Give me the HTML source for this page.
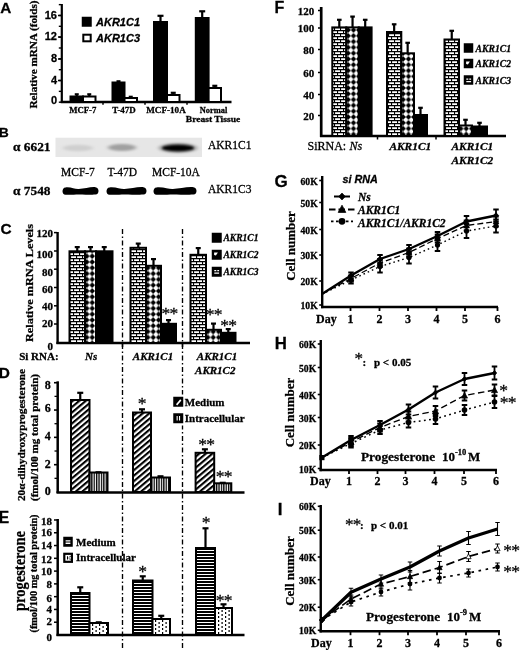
<!DOCTYPE html>
<html lang="en"><head><meta charset="utf-8"><title>Figure</title>
<style>
html,body{margin:0;padding:0;background:#fff;}
body{width:520px;height:650px;overflow:hidden;}
svg{display:block;filter:blur(0.35px);}
text{fill:#000;stroke:#000;stroke-width:0.28px;}
</style></head><body>
<svg width="520" height="650" viewBox="0 0 520 650">
<defs>
<pattern id="brick" width="6" height="6" patternUnits="userSpaceOnUse">
<rect width="6" height="6" fill="#fff"/>
<path d="M0 0H6V1.3H0ZM0 3H6V4.3H0ZM1 1.3H2.1V3H1ZM4 4.3H5.1V6H4Z" fill="#000"/>
</pattern>
<pattern id="diam" width="5" height="5.8" patternUnits="userSpaceOnUse" x="1.2">
<rect width="5" height="5.8" fill="#000"/>
<path d="M2.5 0.3L4.8 2.9L2.5 5.5L0.2 2.9Z" fill="#fff"/>
</pattern>
<pattern id="hatch" width="4.2" height="4.2" patternUnits="userSpaceOnUse" patternTransform="rotate(-40)">
<rect width="4.2" height="4.2" fill="#fff"/>
<rect width="4.2" height="2.1" fill="#000"/>
</pattern>
<pattern id="vert" width="2.4" height="4" patternUnits="userSpaceOnUse">
<rect width="2.4" height="4" fill="#fff"/>
<rect width="1.3" height="4" fill="#000"/>
</pattern>
<pattern id="horiz" width="4" height="3" patternUnits="userSpaceOnUse">
<rect width="4" height="3" fill="#000"/>
<rect y="1" width="4" height="1" fill="#fff"/>
</pattern>
<pattern id="dots" width="7" height="4" patternUnits="userSpaceOnUse">
<rect width="7" height="4" fill="#fff"/>
<rect x="1" y="0" width="1.2" height="2" fill="#000"/>
<rect x="4.5" y="2" width="1.2" height="2" fill="#000"/>
</pattern>
<filter id="blur4" x="-20%" y="-50%" width="140%" height="200%"><feGaussianBlur stdDeviation="2.2 1.3"/></filter>
<filter id="blur1" x="-10%" y="-30%" width="120%" height="160%"><feGaussianBlur stdDeviation="0.7"/></filter>
<filter id="blur2" x="-20%" y="-50%" width="140%" height="200%"><feGaussianBlur stdDeviation="1.2 0.8"/></filter>
</defs>
<rect width="520" height="650" fill="#fff"/>

<g id="panelA">
<text x="0.3" y="12.7" font-family='"Liberation Sans", sans-serif' font-size="15.3" font-weight="bold" font-style="normal" text-anchor="start" stroke="#000" stroke-width="0.5">A</text>
<text x="36.9" y="54.5" font-family='"Liberation Serif", serif' font-size="11" font-weight="bold" font-style="normal" text-anchor="middle" transform="rotate(-90 36.9 54.5)" textLength="108" lengthAdjust="spacingAndGlyphs">Relative mRNA (folds)</text>
<line x1="61.8" y1="4" x2="61.8" y2="103" stroke="#000" stroke-width="2.2"/>
<line x1="58.8" y1="102.2" x2="61" y2="102.2" stroke="#000" stroke-width="1.4"/>
<line x1="58.8" y1="91.36" x2="61" y2="91.36" stroke="#000" stroke-width="1.4"/>
<line x1="58.8" y1="80.52000000000001" x2="61" y2="80.52000000000001" stroke="#000" stroke-width="1.4"/>
<line x1="58.8" y1="69.68" x2="61" y2="69.68" stroke="#000" stroke-width="1.4"/>
<line x1="58.8" y1="58.84" x2="61" y2="58.84" stroke="#000" stroke-width="1.4"/>
<line x1="58.8" y1="48.0" x2="61" y2="48.0" stroke="#000" stroke-width="1.4"/>
<line x1="58.8" y1="37.16000000000001" x2="61" y2="37.16000000000001" stroke="#000" stroke-width="1.4"/>
<line x1="58.8" y1="26.320000000000007" x2="61" y2="26.320000000000007" stroke="#000" stroke-width="1.4"/>
<line x1="58.8" y1="15.480000000000004" x2="61" y2="15.480000000000004" stroke="#000" stroke-width="1.4"/>
<line x1="58.8" y1="4.640000000000001" x2="61" y2="4.640000000000001" stroke="#000" stroke-width="1.4"/>
<line x1="60.7" y1="102.1" x2="231.5" y2="102.1" stroke="#000" stroke-width="2.5"/>
<line x1="58" y1="15.5" x2="61" y2="15.5" stroke="#000" stroke-width="1.5"/>
<text x="57" y="18.9" font-family='"Liberation Sans", sans-serif' font-size="11" font-weight="bold" font-style="normal" text-anchor="end" stroke="#000" stroke-width="0.25">16</text>
<line x1="58" y1="37" x2="61" y2="37" stroke="#000" stroke-width="1.5"/>
<text x="57" y="40.4" font-family='"Liberation Sans", sans-serif' font-size="11" font-weight="bold" font-style="normal" text-anchor="end" stroke="#000" stroke-width="0.25">12</text>
<line x1="58" y1="59" x2="61" y2="59" stroke="#000" stroke-width="1.5"/>
<text x="57" y="62.4" font-family='"Liberation Sans", sans-serif' font-size="11" font-weight="bold" font-style="normal" text-anchor="end" stroke="#000" stroke-width="0.25">8</text>
<line x1="58" y1="80.5" x2="61" y2="80.5" stroke="#000" stroke-width="1.5"/>
<text x="57" y="83.9" font-family='"Liberation Sans", sans-serif' font-size="11" font-weight="bold" font-style="normal" text-anchor="end" stroke="#000" stroke-width="0.25">4</text>
<text x="57" y="104" font-family='"Liberation Sans", sans-serif' font-size="11" font-weight="bold" font-style="normal" text-anchor="end" stroke="#000" stroke-width="0.25">0</text>
<line x1="103" y1="102" x2="103" y2="104.8" stroke="#000" stroke-width="1.5"/>
<line x1="145" y1="102" x2="145" y2="104.8" stroke="#000" stroke-width="1.5"/>
<line x1="187" y1="102" x2="187" y2="104.8" stroke="#000" stroke-width="1.5"/>
<rect x="70.5" y="96.5" width="12.5" height="5.5" fill="#000" stroke="#000" stroke-width="2"/>
<line x1="76.75" y1="96.5" x2="76.75" y2="94" stroke="#000" stroke-width="2.2"/>
<line x1="74.75" y1="94.3" x2="78.75" y2="94.3" stroke="#000" stroke-width="2.2"/>
<rect x="83" y="96.5" width="12.5" height="5.5" fill="#fff" stroke="#000" stroke-width="2"/>
<line x1="89.25" y1="96.5" x2="89.25" y2="94" stroke="#000" stroke-width="2.2"/>
<line x1="87.25" y1="94.3" x2="91.25" y2="94.3" stroke="#000" stroke-width="2.2"/>
<rect x="112.5" y="82.5" width="12.0" height="19.5" fill="#000" stroke="#000" stroke-width="2"/>
<line x1="118.5" y1="82.5" x2="118.5" y2="81" stroke="#000" stroke-width="2.2"/>
<line x1="116.5" y1="81.3" x2="120.5" y2="81.3" stroke="#000" stroke-width="2.2"/>
<rect x="124.5" y="98" width="12.5" height="4" fill="#fff" stroke="#000" stroke-width="2"/>
<line x1="130.75" y1="98" x2="130.75" y2="96.5" stroke="#000" stroke-width="2.2"/>
<line x1="128.75" y1="96.8" x2="132.75" y2="96.8" stroke="#000" stroke-width="2.2"/>
<rect x="154" y="22" width="13" height="80" fill="#000" stroke="#000" stroke-width="2"/>
<line x1="160.5" y1="22" x2="160.5" y2="15.5" stroke="#000" stroke-width="2.2"/>
<line x1="157.5" y1="15.8" x2="163.5" y2="15.8" stroke="#000" stroke-width="2.2"/>
<rect x="167" y="95" width="12.5" height="7" fill="#fff" stroke="#000" stroke-width="2"/>
<line x1="173.25" y1="95" x2="173.25" y2="92.5" stroke="#000" stroke-width="2.2"/>
<line x1="170.75" y1="92.8" x2="175.75" y2="92.8" stroke="#000" stroke-width="2.2"/>
<rect x="195.8" y="18" width="12.799999999999983" height="84" fill="#000" stroke="#000" stroke-width="2"/>
<line x1="202.2" y1="18" x2="202.2" y2="11" stroke="#000" stroke-width="2.2"/>
<line x1="199.2" y1="11.3" x2="205.2" y2="11.3" stroke="#000" stroke-width="2.2"/>
<rect x="208.6" y="88" width="12.400000000000006" height="14" fill="#fff" stroke="#000" stroke-width="2"/>
<line x1="214.8" y1="88" x2="214.8" y2="85.5" stroke="#000" stroke-width="2.2"/>
<line x1="212.3" y1="85.8" x2="217.3" y2="85.8" stroke="#000" stroke-width="2.2"/>
<rect x="82.5" y="17.5" width="8.5" height="8.5" fill="#000" stroke="#000" stroke-width="1.5"/>
<text x="96" y="26" font-family='"Liberation Sans", sans-serif' font-size="11" font-weight="bold" font-style="italic" text-anchor="start">AKR1C1</text>
<rect x="83.3" y="34.7" width="7.4" height="6.6" fill="#fff" stroke="#000" stroke-width="2"/>
<text x="96" y="41.5" font-family='"Liberation Sans", sans-serif' font-size="11" font-weight="bold" font-style="italic" text-anchor="start">AKR1C3</text>
<text x="82.8" y="113" font-family='"Liberation Serif", serif' font-size="9" font-weight="bold" font-style="normal" text-anchor="middle" textLength="27.3" lengthAdjust="spacingAndGlyphs">MCF-7</text>
<text x="124" y="113" font-family='"Liberation Serif", serif' font-size="9" font-weight="bold" font-style="normal" text-anchor="middle" textLength="23.5" lengthAdjust="spacingAndGlyphs">T-47D</text>
<text x="166" y="113" font-family='"Liberation Serif", serif' font-size="9" font-weight="bold" font-style="normal" text-anchor="middle" textLength="39.5" lengthAdjust="spacingAndGlyphs">MCF-10A</text>
<text x="213.5" y="113" font-family='"Liberation Serif", serif' font-size="9" font-weight="bold" font-style="normal" text-anchor="middle" textLength="27.5" lengthAdjust="spacingAndGlyphs">Normal</text>
<text x="213" y="122.3" font-family='"Liberation Serif", serif' font-size="9" font-weight="bold" font-style="normal" text-anchor="middle" textLength="54.5" lengthAdjust="spacingAndGlyphs">Breast Tissue</text>
</g>
<g id="panelB">
<text x="-1" y="136.5" font-family='"Liberation Sans", sans-serif' font-size="13.5" font-weight="bold" font-style="normal" text-anchor="start" stroke="#000" stroke-width="0.5">B</text>
<text x="13" y="151.3" font-family='"Liberation Serif", serif' font-size="12.5" font-weight="bold" font-style="normal" text-anchor="start" textLength="37.5" lengthAdjust="spacingAndGlyphs">α 6621</text>
<text x="13" y="195.3" font-family='"Liberation Serif", serif' font-size="12.5" font-weight="bold" font-style="normal" text-anchor="start" textLength="37.5" lengthAdjust="spacingAndGlyphs">α 7548</text>
<rect x="55.5" y="137.7" width="146.5" height="19.3" fill="#e6e6e6" filter="url(#blur1)"/>
<ellipse cx="78" cy="148" rx="15" ry="3.2" fill="#cfcfcf" filter="url(#blur4)"/>
<ellipse cx="122" cy="147.5" rx="14" ry="3.6" fill="#a0a0a0" filter="url(#blur4)"/>
<ellipse cx="178" cy="148" rx="19" ry="5" fill="#9a9a9a" filter="url(#blur4)"/>
<ellipse cx="178" cy="148" rx="16" ry="3.3" fill="#000" filter="url(#blur2)"/>
<text x="208" y="149" font-family='"Liberation Serif", serif' font-size="11.5" font-weight="normal" font-style="normal" text-anchor="start" stroke="#000" stroke-width="0.3">AKR1C1</text>
<text x="208" y="192.5" font-family='"Liberation Serif", serif' font-size="11.5" font-weight="normal" font-style="normal" text-anchor="start" stroke="#000" stroke-width="0.3">AKR1C3</text>
<text x="61" y="175.5" font-family='"Liberation Serif", serif' font-size="11.5" font-weight="normal" font-style="normal" text-anchor="start" stroke="#000" stroke-width="0.3">MCF-7</text>
<text x="107.5" y="175.5" font-family='"Liberation Serif", serif' font-size="11.5" font-weight="normal" font-style="normal" text-anchor="start" stroke="#000" stroke-width="0.3">T-47D</text>
<text x="152" y="175.5" font-family='"Liberation Serif", serif' font-size="11.5" font-weight="normal" font-style="normal" text-anchor="start" stroke="#000" stroke-width="0.3">MCF-10A</text>
<path d="M65.5 187.4C71.5 186.8 74.7 189.4 78.7 189.1C84.7 188.8 90.58 186.6 95.5 187.2C99.5 187.4 99.5 194.6 95.5 194.6C90.58 194.8 84.7 194.4 78.7 194.4C74.7 194.4 71.5 195 65.5 194.8C61.5 194.6 61.5 187.6 65.5 187.4Z" fill="#000" filter="url(#blur1)"/>
<path d="M109.5 187.4C116.5 186.8 120.5 189.4 124.5 189.1C130.5 188.8 137.7 186.6 143.5 187.2C147.5 187.4 147.5 194.6 143.5 194.6C137.7 194.8 130.5 194.4 124.5 194.4C120.5 194.4 116.5 195 109.5 194.8C105.5 194.6 105.5 187.6 109.5 187.4Z" fill="#000" filter="url(#blur1)"/>
<path d="M156.5 187.4C164.25 186.8 168.85 189.4 172.85 189.1C178.85 188.8 187.04 186.6 193.5 187.2C197.5 187.4 197.5 194.6 193.5 194.6C187.04 194.8 178.85 194.4 172.85 194.4C168.85 194.4 164.25 195 156.5 194.8C152.5 194.6 152.5 187.6 156.5 187.4Z" fill="#000" filter="url(#blur1)"/>
</g>
<line x1="122.5" y1="229" x2="122.5" y2="650" stroke="#000" stroke-width="1.35" stroke-dasharray="5 2.5 1.5 2.5"/>
<line x1="182.5" y1="229" x2="182.5" y2="650" stroke="#000" stroke-width="1.35" stroke-dasharray="5 2.5 1.5 2.5"/>
<g id="panelC">
<text x="0.5" y="233.8" font-family='"Liberation Sans", sans-serif' font-size="15.4" font-weight="bold" font-style="normal" text-anchor="start" stroke="#000" stroke-width="0.5">C</text>
<text x="32.7" y="283" font-family='"Liberation Serif", serif' font-size="11.4" font-weight="bold" font-style="normal" text-anchor="middle" transform="rotate(-90 32.7 283)" textLength="118" lengthAdjust="spacingAndGlyphs">Relative mRNA Levels</text>
<line x1="57.6" y1="232" x2="57.6" y2="344" stroke="#000" stroke-width="2.4"/>
<line x1="56.4" y1="343" x2="250" y2="343" stroke="#000" stroke-width="2.5"/>
<line x1="54" y1="232.6" x2="57" y2="232.6" stroke="#000" stroke-width="1.5"/>
<text x="53" y="237.4" font-family='"Liberation Serif", serif' font-size="11" font-weight="bold" font-style="normal" text-anchor="end">120</text>
<line x1="54" y1="251" x2="57" y2="251" stroke="#000" stroke-width="1.5"/>
<text x="53" y="257.5" font-family='"Liberation Serif", serif' font-size="11" font-weight="bold" font-style="normal" text-anchor="end">100</text>
<line x1="54" y1="269.2" x2="57" y2="269.2" stroke="#000" stroke-width="1.5"/>
<text x="53" y="275.8" font-family='"Liberation Serif", serif' font-size="11" font-weight="bold" font-style="normal" text-anchor="end">80</text>
<line x1="54" y1="287.5" x2="57" y2="287.5" stroke="#000" stroke-width="1.5"/>
<text x="53" y="293.1" font-family='"Liberation Serif", serif' font-size="11" font-weight="bold" font-style="normal" text-anchor="end">60</text>
<line x1="54" y1="305.8" x2="57" y2="305.8" stroke="#000" stroke-width="1.5"/>
<text x="53" y="310.4" font-family='"Liberation Serif", serif' font-size="11" font-weight="bold" font-style="normal" text-anchor="end">40</text>
<line x1="54" y1="324" x2="57" y2="324" stroke="#000" stroke-width="1.5"/>
<text x="53" y="327.2" font-family='"Liberation Serif", serif' font-size="11" font-weight="bold" font-style="normal" text-anchor="end">20</text>
<text x="53" y="349.5" font-family='"Liberation Serif", serif' font-size="11" font-weight="bold" font-style="normal" text-anchor="end">0</text>
<line x1="122.5" y1="343" x2="122.5" y2="347" stroke="#000" stroke-width="1.5"/>
<line x1="182.5" y1="343" x2="182.5" y2="347" stroke="#000" stroke-width="1.5"/>
<rect x="69.5" y="251.3" width="15.5" height="91.69999999999999" fill="url(#brick)" stroke="#000" stroke-width="2"/>
<line x1="77.25" y1="251.3" x2="77.25" y2="246.8" stroke="#000" stroke-width="2.2"/>
<line x1="74.75" y1="247.10000000000002" x2="79.75" y2="247.10000000000002" stroke="#000" stroke-width="2.2"/>
<pattern id="dm1" width="5.4" height="5.8" patternUnits="userSpaceOnUse" x="86.8" y="1"><rect width="5.4" height="5.8" fill="#000"/><path d="M2.7 0L5.4 2.9L2.7 5.8L0 2.9Z" fill="#fff"/></pattern>
<rect x="85" y="251.3" width="11" height="91.69999999999999" fill="url(#dm1)" stroke="#000" stroke-width="2"/>
<line x1="90.5" y1="251.3" x2="90.5" y2="246.8" stroke="#000" stroke-width="2.2"/>
<line x1="88.0" y1="247.10000000000002" x2="93.0" y2="247.10000000000002" stroke="#000" stroke-width="2.2"/>
<rect x="96" y="251.3" width="16.5" height="91.69999999999999" fill="#000" stroke="#000" stroke-width="2"/>
<line x1="104.25" y1="251.3" x2="104.25" y2="246.8" stroke="#000" stroke-width="2.2"/>
<line x1="101.75" y1="247.10000000000002" x2="106.75" y2="247.10000000000002" stroke="#000" stroke-width="2.2"/>
<rect x="130.5" y="247.8" width="15.5" height="95.19999999999999" fill="url(#brick)" stroke="#000" stroke-width="2"/>
<line x1="138.25" y1="247.8" x2="138.25" y2="243.3" stroke="#000" stroke-width="2.2"/>
<line x1="135.75" y1="243.60000000000002" x2="140.75" y2="243.60000000000002" stroke="#000" stroke-width="2.2"/>
<pattern id="dm2" width="5.4" height="5.8" patternUnits="userSpaceOnUse" x="147.8" y="1"><rect width="5.4" height="5.8" fill="#000"/><path d="M2.7 0L5.4 2.9L2.7 5.8L0 2.9Z" fill="#fff"/></pattern>
<rect x="146" y="265.8" width="15" height="77.19999999999999" fill="url(#dm2)" stroke="#000" stroke-width="2"/>
<line x1="153.5" y1="265.8" x2="153.5" y2="258.8" stroke="#000" stroke-width="2.2"/>
<line x1="151.0" y1="259.1" x2="156.0" y2="259.1" stroke="#000" stroke-width="2.2"/>
<rect x="161" y="323.8" width="15" height="19.19999999999999" fill="#000" stroke="#000" stroke-width="2"/>
<line x1="168.5" y1="323.8" x2="168.5" y2="319.8" stroke="#000" stroke-width="2.2"/>
<line x1="166.0" y1="320.1" x2="171.0" y2="320.1" stroke="#000" stroke-width="2.2"/>
<rect x="190.5" y="254.8" width="15.5" height="88.19999999999999" fill="url(#brick)" stroke="#000" stroke-width="2"/>
<line x1="198.25" y1="254.8" x2="198.25" y2="247.8" stroke="#000" stroke-width="2.2"/>
<line x1="195.75" y1="248.10000000000002" x2="200.75" y2="248.10000000000002" stroke="#000" stroke-width="2.2"/>
<pattern id="dm3" width="5.4" height="5.8" patternUnits="userSpaceOnUse" x="207.8" y="1"><rect width="5.4" height="5.8" fill="#000"/><path d="M2.7 0L5.4 2.9L2.7 5.8L0 2.9Z" fill="#fff"/></pattern>
<rect x="206" y="329.8" width="15" height="13.199999999999989" fill="url(#dm3)" stroke="#000" stroke-width="2"/>
<line x1="213.5" y1="329.8" x2="213.5" y2="323.3" stroke="#000" stroke-width="2.2"/>
<line x1="211.0" y1="323.6" x2="216.0" y2="323.6" stroke="#000" stroke-width="2.2"/>
<rect x="221" y="332.8" width="14.5" height="10.199999999999989" fill="#000" stroke="#000" stroke-width="2"/>
<line x1="228.25" y1="332.8" x2="228.25" y2="328.8" stroke="#000" stroke-width="2.2"/>
<line x1="225.75" y1="329.1" x2="230.75" y2="329.1" stroke="#000" stroke-width="2.2"/>
<text x="161.49" y="319.23" font-family='"Liberation Serif", serif' font-size="17.5" font-weight="normal" font-style="normal" text-anchor="start" letter-spacing="-0.8" stroke="#000" stroke-width="0.32">**</text>
<text x="205.74" y="319.73" font-family='"Liberation Serif", serif' font-size="17.5" font-weight="normal" font-style="normal" text-anchor="start" letter-spacing="-0.8" stroke="#000" stroke-width="0.32">**</text>
<text x="220.24" y="331.23" font-family='"Liberation Serif", serif' font-size="17.5" font-weight="normal" font-style="normal" text-anchor="start" letter-spacing="-0.8" stroke="#000" stroke-width="0.32">**</text>
<rect x="212.5" y="233.5" width="8.5" height="8.5" fill="#000" stroke="#000" stroke-width="1.5"/>
<text x="223.5" y="241.2" font-family='"Liberation Serif", serif' font-size="10.6" font-weight="bold" font-style="italic" text-anchor="start" textLength="35" lengthAdjust="spacingAndGlyphs">AKR1C1</text>
<rect x="212.5" y="250.5" width="8.5" height="8.5" fill="#000" stroke="#000" stroke-width="1.5"/>
<path d="M214.1 252.5L217.9 252.5L215.9 255.4L214.1 254.9Z" fill="#fff"/>
<text x="223.5" y="258.2" font-family='"Liberation Serif", serif' font-size="10.6" font-weight="bold" font-style="italic" text-anchor="start" textLength="35" lengthAdjust="spacingAndGlyphs">AKR1C2</text>
<rect x="212.5" y="267.5" width="8.5" height="8.5" fill="#000" stroke="#000" stroke-width="1.5"/>
<path d="M214.3 269.9h2v1.3h-2ZM217.3 269.9h1.8v1.3h-1.8ZM214.3 272.4h4.8v1.3h-4.8Z" fill="#fff"/>
<text x="223.5" y="275.2" font-family='"Liberation Serif", serif' font-size="10.6" font-weight="bold" font-style="italic" text-anchor="start" textLength="35" lengthAdjust="spacingAndGlyphs">AKR1C3</text>
<text x="19.2" y="360" font-family='"Liberation Serif", serif' font-size="11" font-weight="bold" font-style="normal" text-anchor="start">Si RNA:</text>
<text x="85" y="360" font-family='"Liberation Serif", serif' font-size="11" font-weight="bold" font-style="italic" text-anchor="start">Ns</text>
<text x="153" y="360" font-family='"Liberation Serif", serif' font-size="11" font-weight="bold" font-style="italic" text-anchor="middle">AKR1C1</text>
<text x="217" y="360" font-family='"Liberation Serif", serif' font-size="11" font-weight="bold" font-style="italic" text-anchor="middle">AKR1C1</text>
<text x="215.3" y="374" font-family='"Liberation Serif", serif' font-size="11" font-weight="bold" font-style="italic" text-anchor="middle">AKR1C2</text>
</g>
<g id="panelD">
<text x="-1.2" y="377.5" font-family='"Liberation Sans", sans-serif' font-size="15.4" font-weight="bold" font-style="normal" text-anchor="start" stroke="#000" stroke-width="0.5">D</text>
<text x="24.8" y="435" font-family='"Liberation Serif", serif' font-size="10.5" font-weight="bold" font-style="normal" text-anchor="middle" transform="rotate(-90 24.8 435)" textLength="132" lengthAdjust="spacingAndGlyphs">20α-dihydroxyprogesterone</text>
<text x="37.6" y="437.5" font-family='"Liberation Serif", serif' font-size="9.5" font-weight="bold" font-style="normal" text-anchor="middle" transform="rotate(-90 37.6 437.5)" textLength="127" lengthAdjust="spacingAndGlyphs">(fmol/100 mg total  protein)</text>
<line x1="57.7" y1="381.3" x2="57.7" y2="493" stroke="#000" stroke-width="2.5"/>
<line x1="56.5" y1="492.5" x2="244.5" y2="492.5" stroke="#000" stroke-width="2.5"/>
<line x1="54.5" y1="478.34" x2="57" y2="478.34" stroke="#000" stroke-width="1.3"/>
<line x1="54" y1="464.68" x2="57" y2="464.68" stroke="#000" stroke-width="1.6"/>
<line x1="54.5" y1="451.02" x2="57" y2="451.02" stroke="#000" stroke-width="1.3"/>
<line x1="54" y1="437.36" x2="57" y2="437.36" stroke="#000" stroke-width="1.6"/>
<line x1="54.5" y1="423.7" x2="57" y2="423.7" stroke="#000" stroke-width="1.3"/>
<line x1="54" y1="410.03999999999996" x2="57" y2="410.03999999999996" stroke="#000" stroke-width="1.6"/>
<line x1="54.5" y1="396.38" x2="57" y2="396.38" stroke="#000" stroke-width="1.3"/>
<line x1="54" y1="382.72" x2="57" y2="382.72" stroke="#000" stroke-width="1.6"/>
<text x="50.7" y="388.6" font-family='"Liberation Serif", serif' font-size="12" font-weight="bold" font-style="normal" text-anchor="end">8</text>
<text x="50.7" y="411.7" font-family='"Liberation Serif", serif' font-size="12" font-weight="bold" font-style="normal" text-anchor="end">6</text>
<text x="50.7" y="440.2" font-family='"Liberation Serif", serif' font-size="12" font-weight="bold" font-style="normal" text-anchor="end">4</text>
<text x="50.7" y="467.8" font-family='"Liberation Serif", serif' font-size="12" font-weight="bold" font-style="normal" text-anchor="end">2</text>
<text x="50.7" y="495.3" font-family='"Liberation Serif", serif' font-size="12" font-weight="bold" font-style="normal" text-anchor="end">0</text>
<rect x="71" y="400" width="18.5" height="92" fill="url(#hatch)" stroke="#000" stroke-width="2"/>
<line x1="80.25" y1="400" x2="80.25" y2="392.5" stroke="#000" stroke-width="2.2"/>
<line x1="77.25" y1="392.8" x2="83.25" y2="392.8" stroke="#000" stroke-width="2.2"/>
<rect x="89.5" y="472.5" width="18.0" height="19.5" fill="url(#vert)" stroke="#000" stroke-width="2"/>
<line x1="98.5" y1="472.5" x2="98.5" y2="472" stroke="#000" stroke-width="2.2"/>
<line x1="95.5" y1="472.3" x2="101.5" y2="472.3" stroke="#000" stroke-width="2.2"/>
<rect x="133" y="412.5" width="18" height="79.5" fill="url(#hatch)" stroke="#000" stroke-width="2"/>
<line x1="142.0" y1="412.5" x2="142.0" y2="409" stroke="#000" stroke-width="2.2"/>
<line x1="139.0" y1="409.3" x2="145.0" y2="409.3" stroke="#000" stroke-width="2.2"/>
<rect x="151" y="477.5" width="19" height="14.5" fill="url(#vert)" stroke="#000" stroke-width="2"/>
<line x1="160.5" y1="477.5" x2="160.5" y2="476" stroke="#000" stroke-width="2.2"/>
<line x1="157.5" y1="476.3" x2="163.5" y2="476.3" stroke="#000" stroke-width="2.2"/>
<rect x="195.6" y="452.8" width="18.599999999999994" height="39.19999999999999" fill="url(#hatch)" stroke="#000" stroke-width="2"/>
<line x1="204.89999999999998" y1="452.8" x2="204.89999999999998" y2="449" stroke="#000" stroke-width="2.2"/>
<line x1="201.89999999999998" y1="449.3" x2="207.89999999999998" y2="449.3" stroke="#000" stroke-width="2.2"/>
<rect x="214.2" y="483.3" width="17.100000000000023" height="8.699999999999989" fill="url(#vert)" stroke="#000" stroke-width="2"/>
<line x1="222.75" y1="483.3" x2="222.75" y2="482.5" stroke="#000" stroke-width="2.2"/>
<line x1="219.75" y1="482.8" x2="225.75" y2="482.8" stroke="#000" stroke-width="2.2"/>
<text x="137.71" y="409.23" font-family='"Liberation Serif", serif' font-size="17.5" font-weight="normal" font-style="normal" text-anchor="start" letter-spacing="-0.8" stroke="#000" stroke-width="0.32">*</text>
<text x="198.24" y="450.23" font-family='"Liberation Serif", serif' font-size="17.5" font-weight="normal" font-style="normal" text-anchor="start" letter-spacing="-0.8" stroke="#000" stroke-width="0.32">**</text>
<text x="215.74" y="482.23" font-family='"Liberation Serif", serif' font-size="17.5" font-weight="normal" font-style="normal" text-anchor="start" letter-spacing="-0.8" stroke="#000" stroke-width="0.32">**</text>
<rect x="171" y="394.5" width="76" height="31" fill="#fff"/>
<rect x="174" y="397.5" width="8.5" height="8.5" fill="#000" stroke="#000" stroke-width="1.5"/>
<path d="M176 404.3L180.2 399.3L181.4 400.4L177.2 405.4Z" fill="#fff"/>
<text x="184.8" y="406" font-family='"Liberation Serif", serif' font-size="11" font-weight="bold" font-style="normal" text-anchor="start">Medium</text>
<rect x="174" y="414" width="8.5" height="8.5" fill="#000" stroke="#000" stroke-width="1.5"/>
<path d="M176.6 416h1.1v4.6h-1.1ZM179 416h1.1v4.6h-1.1Z" fill="#fff"/>
<text x="184.8" y="422" font-family='"Liberation Serif", serif' font-size="11" font-weight="bold" font-style="normal" text-anchor="start">Intracellular</text>
</g>
<g id="panelE">
<text x="-1.2" y="522.5" font-family='"Liberation Sans", sans-serif' font-size="15.6" font-weight="bold" font-style="normal" text-anchor="start" stroke="#000" stroke-width="0.5">E</text>
<text x="24.7" y="571" font-family='"Liberation Serif", serif' font-size="16.5" font-weight="bold" font-style="normal" text-anchor="middle" transform="rotate(-90 24.7 571)" textLength="80" lengthAdjust="spacingAndGlyphs">progesterone</text>
<text x="36.7" y="573.5" font-family='"Liberation Serif", serif' font-size="9.5" font-weight="bold" font-style="normal" text-anchor="middle" transform="rotate(-90 36.7 573.5)" textLength="118" lengthAdjust="spacingAndGlyphs">(fmol/100 mg total  protein)</text>
<line x1="57.7" y1="519" x2="57.7" y2="636" stroke="#000" stroke-width="2.5"/>
<line x1="56.5" y1="635" x2="244.5" y2="635" stroke="#000" stroke-width="2.5"/>
<line x1="54" y1="622.22" x2="57" y2="622.22" stroke="#000" stroke-width="1.5"/>
<line x1="54" y1="609.44" x2="57" y2="609.44" stroke="#000" stroke-width="1.5"/>
<line x1="54" y1="596.66" x2="57" y2="596.66" stroke="#000" stroke-width="1.5"/>
<line x1="54" y1="583.88" x2="57" y2="583.88" stroke="#000" stroke-width="1.5"/>
<line x1="54" y1="571.1" x2="57" y2="571.1" stroke="#000" stroke-width="1.5"/>
<line x1="54" y1="558.32" x2="57" y2="558.32" stroke="#000" stroke-width="1.5"/>
<line x1="54" y1="545.54" x2="57" y2="545.54" stroke="#000" stroke-width="1.5"/>
<line x1="54" y1="532.76" x2="57" y2="532.76" stroke="#000" stroke-width="1.5"/>
<line x1="54" y1="519.98" x2="57" y2="519.98" stroke="#000" stroke-width="1.5"/>
<text x="52" y="524.5" font-family='"Liberation Serif", serif' font-size="11" font-weight="bold" font-style="normal" text-anchor="end">18</text>
<text x="52" y="535.6" font-family='"Liberation Serif", serif' font-size="11" font-weight="bold" font-style="normal" text-anchor="end">16</text>
<text x="52" y="548.5" font-family='"Liberation Serif", serif' font-size="11" font-weight="bold" font-style="normal" text-anchor="end">14</text>
<text x="52" y="563.3000000000001" font-family='"Liberation Serif", serif' font-size="11" font-weight="bold" font-style="normal" text-anchor="end">12</text>
<text x="52" y="574.5" font-family='"Liberation Serif", serif' font-size="11" font-weight="bold" font-style="normal" text-anchor="end">10</text>
<text x="52" y="587.9000000000001" font-family='"Liberation Serif", serif' font-size="11" font-weight="bold" font-style="normal" text-anchor="end">8</text>
<text x="52" y="601.8000000000001" font-family='"Liberation Serif", serif' font-size="11" font-weight="bold" font-style="normal" text-anchor="end">6</text>
<text x="52" y="613.3000000000001" font-family='"Liberation Serif", serif' font-size="11" font-weight="bold" font-style="normal" text-anchor="end">4</text>
<text x="52" y="625.0" font-family='"Liberation Serif", serif' font-size="11" font-weight="bold" font-style="normal" text-anchor="end">2</text>
<text x="52" y="641.4000000000001" font-family='"Liberation Serif", serif' font-size="11" font-weight="bold" font-style="normal" text-anchor="end">0</text>
<rect x="71" y="593" width="18.5" height="42" fill="url(#horiz)" stroke="#000" stroke-width="2"/>
<line x1="80.25" y1="593" x2="80.25" y2="587" stroke="#000" stroke-width="2.2"/>
<line x1="77.25" y1="587.3" x2="83.25" y2="587.3" stroke="#000" stroke-width="2.2"/>
<rect x="89.5" y="623" width="18.5" height="12" fill="url(#dots)" stroke="#000" stroke-width="2"/>
<line x1="98.75" y1="623" x2="98.75" y2="622" stroke="#000" stroke-width="2.2"/>
<line x1="95.75" y1="622.3" x2="101.75" y2="622.3" stroke="#000" stroke-width="2.2"/>
<rect x="133" y="580.5" width="19.5" height="54.5" fill="url(#horiz)" stroke="#000" stroke-width="2"/>
<line x1="142.75" y1="580.5" x2="142.75" y2="576" stroke="#000" stroke-width="2.2"/>
<line x1="139.75" y1="576.3" x2="145.75" y2="576.3" stroke="#000" stroke-width="2.2"/>
<rect x="152.5" y="619" width="17.5" height="16" fill="url(#dots)" stroke="#000" stroke-width="2"/>
<line x1="161.25" y1="619" x2="161.25" y2="615.5" stroke="#000" stroke-width="2.2"/>
<line x1="158.25" y1="615.8" x2="164.25" y2="615.8" stroke="#000" stroke-width="2.2"/>
<rect x="196" y="548" width="19" height="87" fill="url(#horiz)" stroke="#000" stroke-width="2"/>
<line x1="205.5" y1="548" x2="205.5" y2="528" stroke="#000" stroke-width="2.2"/>
<line x1="202.5" y1="528.3" x2="208.5" y2="528.3" stroke="#000" stroke-width="2.2"/>
<rect x="215" y="608" width="17" height="27" fill="url(#dots)" stroke="#000" stroke-width="2"/>
<line x1="223.5" y1="608" x2="223.5" y2="604" stroke="#000" stroke-width="2.2"/>
<line x1="220.5" y1="604.3" x2="226.5" y2="604.3" stroke="#000" stroke-width="2.2"/>
<text x="138.21" y="577.23" font-family='"Liberation Serif", serif' font-size="17.5" font-weight="normal" font-style="normal" text-anchor="start" letter-spacing="-0.8" stroke="#000" stroke-width="0.32">*</text>
<text x="201.71" y="528.23" font-family='"Liberation Serif", serif' font-size="17.5" font-weight="normal" font-style="normal" text-anchor="start" letter-spacing="-0.8" stroke="#000" stroke-width="0.32">*</text>
<text x="215.74" y="606.23" font-family='"Liberation Serif", serif' font-size="17.5" font-weight="normal" font-style="normal" text-anchor="start" letter-spacing="-0.8" stroke="#000" stroke-width="0.32">**</text>
<rect x="64" y="537.5" width="8" height="8.5" fill="#000" stroke="#000" stroke-width="1.5"/>
<path d="M65.6 540.2h4.8v1.3h-4.8ZM65.6 542.6h4.8v1.3h-4.8Z" fill="#fff"/>
<text x="76" y="545.5" font-family='"Liberation Serif", serif' font-size="11" font-weight="bold" font-style="normal" text-anchor="start">Medium</text>
<rect x="64.3" y="553.8" width="7.6" height="8" fill="#fff" stroke="#000" stroke-width="2.2"/>
<path d="M67 556.2h1v3.4h-1ZM69.6 556h1v1h-1ZM68.6 557.4h1v1h-1ZM69.6 558.8h1v1h-1Z" fill="#000"/>
<text x="76" y="561" font-family='"Liberation Serif", serif' font-size="11" font-weight="bold" font-style="normal" text-anchor="start">Intracellular</text>
</g>
<g id="panelF">
<text x="274.4" y="12.7" font-family='"Liberation Sans", sans-serif' font-size="16" font-weight="bold" font-style="normal" text-anchor="start" stroke="#000" stroke-width="0.1">F</text>
<line x1="321.2" y1="7" x2="321.2" y2="137" stroke="#000" stroke-width="2.7"/>
<line x1="320" y1="136" x2="506" y2="136" stroke="#000" stroke-width="2.5"/>
<line x1="318" y1="10.5" x2="321" y2="10.5" stroke="#000" stroke-width="1.5"/>
<text x="314.3" y="14.9" font-family='"Liberation Serif", serif' font-size="11" font-weight="bold" font-style="normal" text-anchor="end">120</text>
<line x1="318" y1="28" x2="321" y2="28" stroke="#000" stroke-width="1.5"/>
<text x="314.3" y="32.4" font-family='"Liberation Serif", serif' font-size="11" font-weight="bold" font-style="normal" text-anchor="end">100</text>
<line x1="318" y1="49.5" x2="321" y2="49.5" stroke="#000" stroke-width="1.5"/>
<text x="314.3" y="53.9" font-family='"Liberation Serif", serif' font-size="11" font-weight="bold" font-style="normal" text-anchor="end">80</text>
<line x1="318" y1="72.5" x2="321" y2="72.5" stroke="#000" stroke-width="1.5"/>
<text x="314.3" y="76.9" font-family='"Liberation Serif", serif' font-size="11" font-weight="bold" font-style="normal" text-anchor="end">60</text>
<line x1="318" y1="94.5" x2="321" y2="94.5" stroke="#000" stroke-width="1.5"/>
<text x="314.3" y="98.9" font-family='"Liberation Serif", serif' font-size="11" font-weight="bold" font-style="normal" text-anchor="end">40</text>
<line x1="318" y1="115.5" x2="321" y2="115.5" stroke="#000" stroke-width="1.5"/>
<text x="314.3" y="119.9" font-family='"Liberation Serif", serif' font-size="11" font-weight="bold" font-style="normal" text-anchor="end">20</text>
<line x1="377.5" y1="136" x2="377.5" y2="139.5" stroke="#000" stroke-width="1.5"/>
<line x1="436" y1="136" x2="436" y2="139.5" stroke="#000" stroke-width="1.5"/>
<rect x="332.3" y="27.4" width="14.0" height="108.6" fill="url(#brick)" stroke="#000" stroke-width="2"/>
<line x1="339.3" y1="27.4" x2="339.3" y2="19.5" stroke="#000" stroke-width="2.2"/>
<line x1="337.0" y1="19.8" x2="341.6" y2="19.8" stroke="#000" stroke-width="2.2"/>
<pattern id="dm4" width="5.4" height="5.8" patternUnits="userSpaceOnUse" x="348.1" y="1"><rect width="5.4" height="5.8" fill="#000"/><path d="M2.7 0L5.4 2.9L2.7 5.8L0 2.9Z" fill="#fff"/></pattern>
<rect x="346.3" y="27.4" width="12.5" height="108.6" fill="url(#dm4)" stroke="#000" stroke-width="2"/>
<line x1="352.55" y1="27.4" x2="352.55" y2="16.3" stroke="#000" stroke-width="2.2"/>
<line x1="350.25" y1="16.6" x2="354.85" y2="16.6" stroke="#000" stroke-width="2.2"/>
<rect x="358.8" y="27.4" width="12.800000000000011" height="108.6" fill="#000" stroke="#000" stroke-width="2"/>
<line x1="365.20000000000005" y1="27.4" x2="365.20000000000005" y2="19.5" stroke="#000" stroke-width="2.2"/>
<line x1="362.90000000000003" y1="19.8" x2="367.50000000000006" y2="19.8" stroke="#000" stroke-width="2.2"/>
<rect x="387" y="32" width="14.300000000000011" height="104" fill="url(#brick)" stroke="#000" stroke-width="2"/>
<line x1="394.15" y1="32" x2="394.15" y2="24" stroke="#000" stroke-width="2.2"/>
<line x1="391.84999999999997" y1="24.3" x2="396.45" y2="24.3" stroke="#000" stroke-width="2.2"/>
<pattern id="dm5" width="5.4" height="5.8" patternUnits="userSpaceOnUse" x="403.1" y="1"><rect width="5.4" height="5.8" fill="#000"/><path d="M2.7 0L5.4 2.9L2.7 5.8L0 2.9Z" fill="#fff"/></pattern>
<rect x="401.3" y="53.3" width="12.699999999999989" height="82.7" fill="url(#dm5)" stroke="#000" stroke-width="2"/>
<line x1="407.65" y1="53.3" x2="407.65" y2="42.5" stroke="#000" stroke-width="2.2"/>
<line x1="405.34999999999997" y1="42.8" x2="409.95" y2="42.8" stroke="#000" stroke-width="2.2"/>
<rect x="414" y="115" width="13" height="21" fill="#000" stroke="#000" stroke-width="2"/>
<line x1="420.5" y1="115" x2="420.5" y2="107.5" stroke="#000" stroke-width="2.2"/>
<line x1="418.2" y1="107.8" x2="422.8" y2="107.8" stroke="#000" stroke-width="2.2"/>
<rect x="444.5" y="39.5" width="14.5" height="96.5" fill="url(#brick)" stroke="#000" stroke-width="2"/>
<line x1="451.75" y1="39.5" x2="451.75" y2="30.5" stroke="#000" stroke-width="2.2"/>
<line x1="449.45" y1="30.8" x2="454.05" y2="30.8" stroke="#000" stroke-width="2.2"/>
<pattern id="dm6" width="5.4" height="5.8" patternUnits="userSpaceOnUse" x="460.8" y="1"><rect width="5.4" height="5.8" fill="#000"/><path d="M2.7 0L5.4 2.9L2.7 5.8L0 2.9Z" fill="#fff"/></pattern>
<rect x="459" y="125.5" width="13" height="10.5" fill="url(#dm6)" stroke="#000" stroke-width="2"/>
<line x1="465.5" y1="125.5" x2="465.5" y2="119.5" stroke="#000" stroke-width="2.2"/>
<line x1="463.2" y1="119.8" x2="467.8" y2="119.8" stroke="#000" stroke-width="2.2"/>
<rect x="472" y="126.5" width="15" height="9.5" fill="#000" stroke="#000" stroke-width="2"/>
<line x1="479.5" y1="126.5" x2="479.5" y2="122.5" stroke="#000" stroke-width="2.2"/>
<line x1="477.2" y1="122.8" x2="481.8" y2="122.8" stroke="#000" stroke-width="2.2"/>
<rect x="464.5" y="44" width="8" height="8" fill="#000" stroke="#000" stroke-width="1.5"/>
<text x="475.5" y="51.5" font-family='"Liberation Serif", serif' font-size="9.7" font-weight="bold" font-style="italic" text-anchor="start">AKR1C1</text>
<rect x="464.5" y="59.5" width="8" height="8" fill="#000" stroke="#000" stroke-width="1.5"/>
<path d="M466.1 61.5L469.9 61.5L467.9 64.4L466.1 63.9Z" fill="#fff"/>
<text x="475.5" y="67" font-family='"Liberation Serif", serif' font-size="9.7" font-weight="bold" font-style="italic" text-anchor="start">AKR1C2</text>
<rect x="464.5" y="76" width="8" height="8" fill="#000" stroke="#000" stroke-width="1.5"/>
<path d="M466.3 78.4h2v1.3h-2ZM469.3 78.4h1.8v1.3h-1.8ZM466.3 80.9h4.8v1.3h-4.8Z" fill="#fff"/>
<text x="475.5" y="83.5" font-family='"Liberation Serif", serif' font-size="9.7" font-weight="bold" font-style="italic" text-anchor="start">AKR1C3</text>
<text x="307.5" y="149.5" font-family='"Liberation Serif", serif' font-size="12" font-weight="normal" font-style="normal" text-anchor="start" stroke="#000" stroke-width="0.3">SiRNA:</text>
<text x="349.5" y="149.5" font-family='"Liberation Serif", serif' font-size="12" font-weight="normal" font-style="italic" text-anchor="start" stroke="#000" stroke-width="0.3">Ns</text>
<text x="410.3" y="150" font-family='"Liberation Serif", serif' font-size="11.4" font-weight="bold" font-style="italic" text-anchor="middle">AKR1C1</text>
<text x="472.4" y="150" font-family='"Liberation Serif", serif' font-size="11.4" font-weight="bold" font-style="italic" text-anchor="middle">AKR1C1</text>
<text x="472.4" y="163.5" font-family='"Liberation Serif", serif' font-size="11.4" font-weight="bold" font-style="italic" text-anchor="middle">AKR1C2</text>
</g>
<text x="274.6" y="187.2" font-family='"Liberation Sans", sans-serif' font-size="17" font-weight="bold" font-style="normal" text-anchor="start" stroke="#000" stroke-width="0">G</text>
<g id="panelG">
<line x1="322.2" y1="176" x2="322.2" y2="308.2" stroke="#000" stroke-width="2.4"/>
<line x1="321.0" y1="307" x2="498" y2="307" stroke="#000" stroke-width="2.4"/>
<line x1="319.2" y1="180.5" x2="322.2" y2="180.5" stroke="#000" stroke-width="1.6"/>
<text x="317.7" y="184.5" font-family='"Liberation Serif", serif' font-size="9.7" font-weight="bold" font-style="normal" text-anchor="end" stroke="#000" stroke-width="0.2">60K</text>
<line x1="319.2" y1="202.5" x2="322.2" y2="202.5" stroke="#000" stroke-width="1.6"/>
<text x="317.7" y="206.5" font-family='"Liberation Serif", serif' font-size="9.7" font-weight="bold" font-style="normal" text-anchor="end" stroke="#000" stroke-width="0.2">50K</text>
<line x1="319.2" y1="229.5" x2="322.2" y2="229.5" stroke="#000" stroke-width="1.6"/>
<text x="317.7" y="233.5" font-family='"Liberation Serif", serif' font-size="9.7" font-weight="bold" font-style="normal" text-anchor="end" stroke="#000" stroke-width="0.2">40K</text>
<line x1="319.2" y1="255" x2="322.2" y2="255" stroke="#000" stroke-width="1.6"/>
<text x="317.7" y="259" font-family='"Liberation Serif", serif' font-size="9.7" font-weight="bold" font-style="normal" text-anchor="end" stroke="#000" stroke-width="0.2">30K</text>
<line x1="319.2" y1="281" x2="322.2" y2="281" stroke="#000" stroke-width="1.6"/>
<text x="317.7" y="285" font-family='"Liberation Serif", serif' font-size="9.7" font-weight="bold" font-style="normal" text-anchor="end" stroke="#000" stroke-width="0.2">20K</text>
<line x1="319.2" y1="305" x2="322.2" y2="305" stroke="#000" stroke-width="1.6"/>
<text x="317.7" y="309" font-family='"Liberation Serif", serif' font-size="9.7" font-weight="bold" font-style="normal" text-anchor="end" stroke="#000" stroke-width="0.2">10K</text>
<line x1="350.5" y1="307" x2="350.5" y2="311" stroke="#000" stroke-width="1.8"/>
<text x="350.5" y="323" font-family='"Liberation Serif", serif' font-size="12" font-weight="bold" font-style="normal" text-anchor="middle">1</text>
<line x1="379.5" y1="307" x2="379.5" y2="311" stroke="#000" stroke-width="1.8"/>
<text x="379.5" y="323" font-family='"Liberation Serif", serif' font-size="12" font-weight="bold" font-style="normal" text-anchor="middle">2</text>
<line x1="408" y1="307" x2="408" y2="311" stroke="#000" stroke-width="1.8"/>
<text x="408" y="323" font-family='"Liberation Serif", serif' font-size="12" font-weight="bold" font-style="normal" text-anchor="middle">3</text>
<line x1="436.5" y1="307" x2="436.5" y2="311" stroke="#000" stroke-width="1.8"/>
<text x="436.5" y="323" font-family='"Liberation Serif", serif' font-size="12" font-weight="bold" font-style="normal" text-anchor="middle">4</text>
<line x1="465" y1="307" x2="465" y2="311" stroke="#000" stroke-width="1.8"/>
<text x="465" y="323" font-family='"Liberation Serif", serif' font-size="12" font-weight="bold" font-style="normal" text-anchor="middle">5</text>
<line x1="497.5" y1="307" x2="497.5" y2="311" stroke="#000" stroke-width="1.8"/>
<text x="497.5" y="323" font-family='"Liberation Serif", serif' font-size="12" font-weight="bold" font-style="normal" text-anchor="middle">6</text>
<text x="316" y="323" font-family='"Liberation Serif", serif' font-size="12" font-weight="bold" font-style="normal" text-anchor="start">Day</text>
<text x="295" y="246" font-family='"Liberation Serif", serif' font-size="13" font-weight="bold" font-style="normal" text-anchor="middle" transform="rotate(-90 295 246)">Cell number</text>
<polyline points="322,294 351,275.5 380,259 409,249 437.5,236 466.5,221.5 496,215.5" fill="none" stroke="#000" stroke-width="2.3" stroke-linejoin="round"/>
<polyline points="322,294 351,278.5 380,263 409,252.5 437.5,238.5 466.5,225.5 496,221.5" fill="none" stroke="#000" stroke-width="1.3" stroke-linejoin="round" stroke-dasharray="6 3"/>
<polyline points="322,294 351,280 380,266.5 409,257.5 437.5,245 466.5,231 496,226" fill="none" stroke="#000" stroke-width="1.4" stroke-linejoin="round" stroke-dasharray="1.6 3"/>
<path d="M351 272.5V278.5M348.25 272.5H353.75M348.25 278.5H353.75" stroke="#000" stroke-width="1.8" fill="none"/>
<path d="M351 272.7L353.6 275.5L351 278.3L348.4 275.5Z" fill="#000" stroke="#000" stroke-width="0.8"/>
<path d="M380 255V263M377.25 255H382.75M377.25 263H382.75" stroke="#000" stroke-width="1.8" fill="none"/>
<path d="M380 256.2L382.6 259L380 261.8L377.4 259Z" fill="#000" stroke="#000" stroke-width="0.8"/>
<path d="M409 245V253M406.25 245H411.75M406.25 253H411.75" stroke="#000" stroke-width="1.8" fill="none"/>
<path d="M409 246.2L411.6 249L409 251.8L406.4 249Z" fill="#000" stroke="#000" stroke-width="0.8"/>
<path d="M437.5 232V240M434.75 232H440.25M434.75 240H440.25" stroke="#000" stroke-width="1.8" fill="none"/>
<path d="M437.5 233.2L440.1 236L437.5 238.8L434.9 236Z" fill="#000" stroke="#000" stroke-width="0.8"/>
<path d="M466.5 216V227M463.75 216H469.25M463.75 227H469.25" stroke="#000" stroke-width="1.8" fill="none"/>
<path d="M466.5 218.7L469.1 221.5L466.5 224.3L463.9 221.5Z" fill="#000" stroke="#000" stroke-width="0.8"/>
<path d="M496 209.5V221.5M493.25 209.5H498.75M493.25 221.5H498.75" stroke="#000" stroke-width="1.8" fill="none"/>
<path d="M496 212.7L498.6 215.5L496 218.3L493.4 215.5Z" fill="#000" stroke="#000" stroke-width="0.8"/>
<path d="M351 275.5V281.5M348.25 275.5H353.75M348.25 281.5H353.75" stroke="#000" stroke-width="1.8" fill="none"/>
<path d="M351 275.7L353.8 280.9L348.2 280.9Z" fill="#000" stroke="#000" stroke-width="0.8"/>
<path d="M380 259V267M377.25 259H382.75M377.25 267H382.75" stroke="#000" stroke-width="1.8" fill="none"/>
<path d="M380 260.2L382.8 265.4L377.2 265.4Z" fill="#000" stroke="#000" stroke-width="0.8"/>
<path d="M409 248.5V256.5M406.25 248.5H411.75M406.25 256.5H411.75" stroke="#000" stroke-width="1.8" fill="none"/>
<path d="M409 249.7L411.8 254.9L406.2 254.9Z" fill="#000" stroke="#000" stroke-width="0.8"/>
<path d="M437.5 234.5V242.5M434.75 234.5H440.25M434.75 242.5H440.25" stroke="#000" stroke-width="1.8" fill="none"/>
<path d="M437.5 235.7L440.3 240.9L434.7 240.9Z" fill="#000" stroke="#000" stroke-width="0.8"/>
<path d="M466.5 220.5V230.5M463.75 220.5H469.25M463.75 230.5H469.25" stroke="#000" stroke-width="1.8" fill="none"/>
<path d="M466.5 222.7L469.3 227.9L463.7 227.9Z" fill="#000" stroke="#000" stroke-width="0.8"/>
<path d="M496 216.5V226.5M493.25 216.5H498.75M493.25 226.5H498.75" stroke="#000" stroke-width="1.8" fill="none"/>
<path d="M496 218.7L498.8 223.9L493.2 223.9Z" fill="#000" stroke="#000" stroke-width="0.8"/>
<path d="M351 276.5V283.5M348.25 276.5H353.75M348.25 283.5H353.75" stroke="#000" stroke-width="1.8" fill="none"/>
<circle cx="351" cy="280" r="2.6" fill="#000"/>
<path d="M380 260.5V272.5M377.25 260.5H382.75M377.25 272.5H382.75" stroke="#000" stroke-width="1.8" fill="none"/>
<circle cx="380" cy="266.5" r="2.6" fill="#000"/>
<path d="M409 251.5V263.5M406.25 251.5H411.75M406.25 263.5H411.75" stroke="#000" stroke-width="1.8" fill="none"/>
<circle cx="409" cy="257.5" r="2.6" fill="#000"/>
<path d="M437.5 239V251M434.75 239H440.25M434.75 251H440.25" stroke="#000" stroke-width="1.8" fill="none"/>
<circle cx="437.5" cy="245" r="2.6" fill="#000"/>
<path d="M466.5 224V238M463.75 224H469.25M463.75 238H469.25" stroke="#000" stroke-width="1.8" fill="none"/>
<circle cx="466.5" cy="231" r="2.6" fill="#000"/>
<path d="M496 219.5V232.5M493.25 219.5H498.75M493.25 232.5H498.75" stroke="#000" stroke-width="1.8" fill="none"/>
<circle cx="496" cy="226" r="2.6" fill="#000"/>
</g>
<text x="342.5" y="183" font-family='"Liberation Sans", sans-serif' font-size="10.8" font-weight="bold" font-style="italic" text-anchor="start">si RNA</text>
<line x1="334" y1="196.5" x2="350" y2="196.5" stroke="#000" stroke-width="2"/>
<path d="M342 193.1L345.2 196.5L342 199.9L338.8 196.5Z" fill="#000" stroke="#000" stroke-width="0.8"/>
<text x="358" y="201" font-family='"Liberation Serif", serif' font-size="11.5" font-weight="bold" font-style="italic" text-anchor="start">Ns</text>
<line x1="329" y1="209.5" x2="354.5" y2="209.5" stroke="#000" stroke-width="1.8" stroke-dasharray="6.5 3"/>
<path d="M342 205.2L345.8 212.4L338.2 212.4Z" fill="#000" stroke="#000" stroke-width="0.8"/>
<text x="358" y="214.2" font-family='"Liberation Serif", serif' font-size="11.5" font-weight="bold" font-style="italic" text-anchor="start">AKR1C1</text>
<line x1="331" y1="221.3" x2="353" y2="221.3" stroke="#000" stroke-width="1.8" stroke-dasharray="2.5 2.5"/>
<circle cx="342" cy="221.3" r="3.4" fill="#000"/>
<text x="358" y="226.8" font-family='"Liberation Serif", serif' font-size="11.5" font-weight="bold" font-style="italic" text-anchor="start">AKR1C1/AKR1C2</text>
<text x="274.7" y="349" font-family='"Liberation Sans", sans-serif' font-size="16.8" font-weight="bold" font-style="normal" text-anchor="start" stroke="#000" stroke-width="0">H</text>
<g id="panelH">
<line x1="320.75" y1="340" x2="320.75" y2="471.2" stroke="#000" stroke-width="2.4"/>
<line x1="319.55" y1="470" x2="497" y2="470" stroke="#000" stroke-width="2.4"/>
<line x1="317.75" y1="344" x2="320.75" y2="344" stroke="#000" stroke-width="1.6"/>
<text x="316.25" y="348" font-family='"Liberation Serif", serif' font-size="9.7" font-weight="bold" font-style="normal" text-anchor="end" stroke="#000" stroke-width="0.2">60K</text>
<line x1="317.75" y1="367.5" x2="320.75" y2="367.5" stroke="#000" stroke-width="1.6"/>
<text x="316.25" y="371.5" font-family='"Liberation Serif", serif' font-size="9.7" font-weight="bold" font-style="normal" text-anchor="end" stroke="#000" stroke-width="0.2">50K</text>
<line x1="317.75" y1="394.5" x2="320.75" y2="394.5" stroke="#000" stroke-width="1.6"/>
<text x="316.25" y="398.5" font-family='"Liberation Serif", serif' font-size="9.7" font-weight="bold" font-style="normal" text-anchor="end" stroke="#000" stroke-width="0.2">40K</text>
<line x1="317.75" y1="417.5" x2="320.75" y2="417.5" stroke="#000" stroke-width="1.6"/>
<text x="316.25" y="421.5" font-family='"Liberation Serif", serif' font-size="9.7" font-weight="bold" font-style="normal" text-anchor="end" stroke="#000" stroke-width="0.2">30K</text>
<line x1="317.75" y1="445" x2="320.75" y2="445" stroke="#000" stroke-width="1.6"/>
<text x="316.25" y="449" font-family='"Liberation Serif", serif' font-size="9.7" font-weight="bold" font-style="normal" text-anchor="end" stroke="#000" stroke-width="0.2">20K</text>
<line x1="317.75" y1="468.5" x2="320.75" y2="468.5" stroke="#000" stroke-width="1.6"/>
<text x="316.25" y="472.5" font-family='"Liberation Serif", serif' font-size="9.7" font-weight="bold" font-style="normal" text-anchor="end" stroke="#000" stroke-width="0.2">10K</text>
<line x1="349" y1="470" x2="349" y2="474" stroke="#000" stroke-width="1.8"/>
<text x="349" y="485" font-family='"Liberation Serif", serif' font-size="12" font-weight="bold" font-style="normal" text-anchor="middle">1</text>
<line x1="377.5" y1="470" x2="377.5" y2="474" stroke="#000" stroke-width="1.8"/>
<text x="377.5" y="485" font-family='"Liberation Serif", serif' font-size="12" font-weight="bold" font-style="normal" text-anchor="middle">2</text>
<line x1="405.5" y1="470" x2="405.5" y2="474" stroke="#000" stroke-width="1.8"/>
<text x="405.5" y="485" font-family='"Liberation Serif", serif' font-size="12" font-weight="bold" font-style="normal" text-anchor="middle">3</text>
<line x1="434.5" y1="470" x2="434.5" y2="474" stroke="#000" stroke-width="1.8"/>
<text x="434.5" y="485" font-family='"Liberation Serif", serif' font-size="12" font-weight="bold" font-style="normal" text-anchor="middle">4</text>
<line x1="464" y1="470" x2="464" y2="474" stroke="#000" stroke-width="1.8"/>
<text x="464" y="485" font-family='"Liberation Serif", serif' font-size="12" font-weight="bold" font-style="normal" text-anchor="middle">5</text>
<line x1="496" y1="470" x2="496" y2="474" stroke="#000" stroke-width="1.8"/>
<text x="496" y="485" font-family='"Liberation Serif", serif' font-size="12" font-weight="bold" font-style="normal" text-anchor="middle">6</text>
<text x="310" y="485" font-family='"Liberation Serif", serif' font-size="12" font-weight="bold" font-style="normal" text-anchor="start">Day</text>
<text x="294" y="412.5" font-family='"Liberation Serif", serif' font-size="13" font-weight="bold" font-style="normal" text-anchor="middle" transform="rotate(-90 294 412.5)">Cell number</text>
<polyline points="322,457.5 351,440 380,425 408.5,409.5 435.5,392.5 464.5,379 494.5,373" fill="none" stroke="#000" stroke-width="2.4" stroke-linejoin="round"/>
<polyline points="322,457.5 351,442 380,427.5 408.5,416.5 435.5,411 464.5,395.5 494.5,390" fill="none" stroke="#000" stroke-width="1.4" stroke-linejoin="round" stroke-dasharray="6.5 3.5"/>
<polyline points="322,457.5 351,443.5 380,430 408.5,422.5 435.5,419 464.5,410 494.5,402" fill="none" stroke="#000" stroke-width="1.5" stroke-linejoin="round" stroke-dasharray="1.8 3.4"/>
<path d="M351 436V444M348.25 436H353.75M348.25 444H353.75" stroke="#000" stroke-width="1.8" fill="none"/>
<path d="M351 437.6L353.2 440L351 442.4L348.8 440Z" fill="#000" stroke="#000" stroke-width="0.8"/>
<path d="M380 421V429M377.25 421H382.75M377.25 429H382.75" stroke="#000" stroke-width="1.8" fill="none"/>
<path d="M380 422.6L382.2 425L380 427.4L377.8 425Z" fill="#000" stroke="#000" stroke-width="0.8"/>
<path d="M408.5 404.5V414.5M405.75 404.5H411.25M405.75 414.5H411.25" stroke="#000" stroke-width="1.8" fill="none"/>
<path d="M408.5 407.1L410.7 409.5L408.5 411.9L406.3 409.5Z" fill="#000" stroke="#000" stroke-width="0.8"/>
<path d="M435.5 386.5V398.5M432.75 386.5H438.25M432.75 398.5H438.25" stroke="#000" stroke-width="1.8" fill="none"/>
<path d="M435.5 390.1L437.7 392.5L435.5 394.9L433.3 392.5Z" fill="#000" stroke="#000" stroke-width="0.8"/>
<path d="M464.5 373V385M461.75 373H467.25M461.75 385H467.25" stroke="#000" stroke-width="1.8" fill="none"/>
<path d="M464.5 376.6L466.7 379L464.5 381.4L462.3 379Z" fill="#000" stroke="#000" stroke-width="0.8"/>
<path d="M494.5 366.5V379.5M491.75 366.5H497.25M491.75 379.5H497.25" stroke="#000" stroke-width="1.8" fill="none"/>
<path d="M494.5 370.6L496.7 373L494.5 375.4L492.3 373Z" fill="#000" stroke="#000" stroke-width="0.8"/>
<path d="M351 438V446M348.25 438H353.75M348.25 446H353.75" stroke="#000" stroke-width="1.8" fill="none"/>
<path d="M351 439L354 444.6L348 444.6Z" fill="#000" stroke="#000" stroke-width="0.8"/>
<path d="M380 423.5V431.5M377.25 423.5H382.75M377.25 431.5H382.75" stroke="#000" stroke-width="1.8" fill="none"/>
<path d="M380 424.5L383 430.1L377 430.1Z" fill="#000" stroke="#000" stroke-width="0.8"/>
<path d="M408.5 411.5V421.5M405.75 411.5H411.25M405.75 421.5H411.25" stroke="#000" stroke-width="1.8" fill="none"/>
<path d="M408.5 413.5L411.5 419.1L405.5 419.1Z" fill="#000" stroke="#000" stroke-width="0.8"/>
<path d="M435.5 406V416M432.75 406H438.25M432.75 416H438.25" stroke="#000" stroke-width="1.8" fill="none"/>
<path d="M435.5 408L438.5 413.6L432.5 413.6Z" fill="#000" stroke="#000" stroke-width="0.8"/>
<path d="M464.5 390.5V400.5M461.75 390.5H467.25M461.75 400.5H467.25" stroke="#000" stroke-width="1.8" fill="none"/>
<path d="M464.5 392.5L467.5 398.1L461.5 398.1Z" fill="#000" stroke="#000" stroke-width="0.8"/>
<path d="M494.5 384.5V395.5M491.75 384.5H497.25M491.75 395.5H497.25" stroke="#000" stroke-width="1.8" fill="none"/>
<path d="M494.5 387L497.5 392.6L491.5 392.6Z" fill="#000" stroke="#000" stroke-width="0.8"/>
<path d="M351 439.5V447.5M348.25 439.5H353.75M348.25 447.5H353.75" stroke="#000" stroke-width="1.8" fill="none"/>
<circle cx="351" cy="443.5" r="2.8" fill="#000"/>
<path d="M380 426V434M377.25 426H382.75M377.25 434H382.75" stroke="#000" stroke-width="1.8" fill="none"/>
<circle cx="380" cy="430" r="2.8" fill="#000"/>
<path d="M408.5 417.5V427.5M405.75 417.5H411.25M405.75 427.5H411.25" stroke="#000" stroke-width="1.8" fill="none"/>
<circle cx="408.5" cy="422.5" r="2.8" fill="#000"/>
<path d="M435.5 414V424M432.75 414H438.25M432.75 424H438.25" stroke="#000" stroke-width="1.8" fill="none"/>
<circle cx="435.5" cy="419" r="2.8" fill="#000"/>
<path d="M464.5 405V415M461.75 405H467.25M461.75 415H467.25" stroke="#000" stroke-width="1.8" fill="none"/>
<circle cx="464.5" cy="410" r="2.8" fill="#000"/>
<path d="M494.5 396V408M491.75 396H497.25M491.75 408H497.25" stroke="#000" stroke-width="1.8" fill="none"/>
<circle cx="494.5" cy="402" r="2.8" fill="#000"/>
</g>
<rect x="319.3" y="455" width="5.2" height="5.2" fill="#000"/>
<text x="354.58" y="364.49" font-family='"Liberation Serif", serif' font-size="17" font-weight="normal" font-style="normal" text-anchor="start" letter-spacing="-0.8" stroke="#000" stroke-width="0.32">*</text>
<text x="362.5" y="365.5" font-family='"Liberation Serif", serif' font-size="11" font-weight="bold" font-style="normal" text-anchor="start">:</text>
<text x="374" y="365.5" font-family='"Liberation Serif", serif' font-size="11" font-weight="bold" font-style="normal" text-anchor="start">p &lt; 0.05</text>
<text x="361" y="461" font-family='"Liberation Serif", serif' font-size="13.3" font-weight="bold" font-style="normal" text-anchor="start">Progesterone</text>
<text x="442" y="461" font-family='"Liberation Serif", serif' font-size="13" font-weight="bold" font-style="normal" text-anchor="start">10</text>
<text x="455" y="455" font-family='"Liberation Serif", serif' font-size="8.5" font-weight="bold" font-style="normal" text-anchor="start">-10</text>
<text x="468" y="461" font-family='"Liberation Serif", serif' font-size="13" font-weight="bold" font-style="normal" text-anchor="start">M</text>
<text x="499.31" y="396.23" font-family='"Liberation Serif", serif' font-size="17.5" font-weight="normal" font-style="normal" text-anchor="start" letter-spacing="-0.8" stroke="#000" stroke-width="0.32">*</text>
<text x="499.74" y="408.23" font-family='"Liberation Serif", serif' font-size="17.5" font-weight="normal" font-style="normal" text-anchor="start" letter-spacing="-0.8" stroke="#000" stroke-width="0.32">**</text>
<text x="277.7" y="514.8" font-family='"Liberation Sans", sans-serif' font-size="17" font-weight="bold" font-style="normal" text-anchor="start" stroke="#000" stroke-width="0">I</text>
<g id="panelI">
<line x1="320.75" y1="505" x2="320.75" y2="632.4000000000001" stroke="#000" stroke-width="2.4"/>
<line x1="319.55" y1="631.2" x2="500" y2="631.2" stroke="#000" stroke-width="2.4"/>
<line x1="317.75" y1="506.3" x2="320.75" y2="506.3" stroke="#000" stroke-width="1.6"/>
<text x="316.25" y="510.3" font-family='"Liberation Serif", serif' font-size="9.7" font-weight="bold" font-style="normal" text-anchor="end" stroke="#000" stroke-width="0.2">60K</text>
<line x1="317.75" y1="530.2" x2="320.75" y2="530.2" stroke="#000" stroke-width="1.6"/>
<text x="316.25" y="534.2" font-family='"Liberation Serif", serif' font-size="9.7" font-weight="bold" font-style="normal" text-anchor="end" stroke="#000" stroke-width="0.2">50K</text>
<line x1="317.75" y1="557" x2="320.75" y2="557" stroke="#000" stroke-width="1.6"/>
<text x="316.25" y="561" font-family='"Liberation Serif", serif' font-size="9.7" font-weight="bold" font-style="normal" text-anchor="end" stroke="#000" stroke-width="0.2">40K</text>
<line x1="317.75" y1="579.7" x2="320.75" y2="579.7" stroke="#000" stroke-width="1.6"/>
<text x="316.25" y="583.7" font-family='"Liberation Serif", serif' font-size="9.7" font-weight="bold" font-style="normal" text-anchor="end" stroke="#000" stroke-width="0.2">30K</text>
<line x1="317.75" y1="607.2" x2="320.75" y2="607.2" stroke="#000" stroke-width="1.6"/>
<text x="316.25" y="611.2" font-family='"Liberation Serif", serif' font-size="9.7" font-weight="bold" font-style="normal" text-anchor="end" stroke="#000" stroke-width="0.2">20K</text>
<line x1="317.75" y1="630.3" x2="320.75" y2="630.3" stroke="#000" stroke-width="1.6"/>
<text x="316.25" y="634.3" font-family='"Liberation Serif", serif' font-size="9.7" font-weight="bold" font-style="normal" text-anchor="end" stroke="#000" stroke-width="0.2">10K</text>
<line x1="350.5" y1="631.2" x2="350.5" y2="635.2" stroke="#000" stroke-width="1.8"/>
<text x="350.5" y="647.3" font-family='"Liberation Serif", serif' font-size="12" font-weight="bold" font-style="normal" text-anchor="middle">1</text>
<line x1="379.5" y1="631.2" x2="379.5" y2="635.2" stroke="#000" stroke-width="1.8"/>
<text x="379.5" y="647.3" font-family='"Liberation Serif", serif' font-size="12" font-weight="bold" font-style="normal" text-anchor="middle">2</text>
<line x1="408" y1="631.2" x2="408" y2="635.2" stroke="#000" stroke-width="1.8"/>
<text x="408" y="647.3" font-family='"Liberation Serif", serif' font-size="12" font-weight="bold" font-style="normal" text-anchor="middle">3</text>
<line x1="437" y1="631.2" x2="437" y2="635.2" stroke="#000" stroke-width="1.8"/>
<text x="437" y="647.3" font-family='"Liberation Serif", serif' font-size="12" font-weight="bold" font-style="normal" text-anchor="middle">4</text>
<line x1="466" y1="631.2" x2="466" y2="635.2" stroke="#000" stroke-width="1.8"/>
<text x="466" y="647.3" font-family='"Liberation Serif", serif' font-size="12" font-weight="bold" font-style="normal" text-anchor="middle">5</text>
<line x1="499" y1="631.2" x2="499" y2="635.2" stroke="#000" stroke-width="1.8"/>
<text x="499" y="647.3" font-family='"Liberation Serif", serif' font-size="12" font-weight="bold" font-style="normal" text-anchor="middle">6</text>
<text x="311" y="647.3" font-family='"Liberation Serif", serif' font-size="12" font-weight="bold" font-style="normal" text-anchor="start">Day</text>
<text x="294" y="571" font-family='"Liberation Serif", serif' font-size="13" font-weight="bold" font-style="normal" text-anchor="middle" transform="rotate(-90 294 571)">Cell number</text>
<polyline points="322,620 351,592.2 381,579 410,567 439.5,551 468.5,538 497.5,529" fill="none" stroke="#000" stroke-width="3.3" stroke-linejoin="round"/>
<polyline points="322,620 351,599 381,584 410,576.5 439.5,567.5 468.5,556.5 497.5,548.5" fill="none" stroke="#000" stroke-width="1.7" stroke-linejoin="round" stroke-dasharray="8.5 4"/>
<polyline points="322,620 351,602 381,592 410,584 439.5,578 468.5,573 497.5,567" fill="none" stroke="#000" stroke-width="1.7" stroke-linejoin="round" stroke-dasharray="2.6 4.6"/>
<path d="M351 588.2V596.2M348.75 588.2H353.25M348.75 596.2H353.25" stroke="#000" stroke-width="1.1" fill="none"/>
<path d="M381 575V583M378.75 575H383.25M378.75 583H383.25" stroke="#000" stroke-width="1.1" fill="none"/>
<path d="M410 562V572M407.75 562H412.25M407.75 572H412.25" stroke="#000" stroke-width="1.1" fill="none"/>
<path d="M439.5 546V556M437.25 546H441.75M437.25 556H441.75" stroke="#000" stroke-width="1.1" fill="none"/>
<path d="M468.5 531.5V544.5M466.25 531.5H470.75M466.25 544.5H470.75" stroke="#000" stroke-width="1.1" fill="none"/>
<path d="M497.5 522.5V535.5M495.25 522.5H499.75M495.25 535.5H499.75" stroke="#000" stroke-width="1.1" fill="none"/>
<path d="M351 595V603M348.75 595H353.25M348.75 603H353.25" stroke="#000" stroke-width="1.1" fill="none"/>
<path d="M351 596.4L353.6 601.2L348.4 601.2Z" fill="#000" stroke="#000" stroke-width="0.8"/>
<path d="M381 579V589M378.75 579H383.25M378.75 589H383.25" stroke="#000" stroke-width="1.1" fill="none"/>
<path d="M381 581.4L383.6 586.2L378.4 586.2Z" fill="#000" stroke="#000" stroke-width="0.8"/>
<path d="M410 570.5V582.5M407.75 570.5H412.25M407.75 582.5H412.25" stroke="#000" stroke-width="1.1" fill="none"/>
<path d="M410 573.9L412.6 578.7L407.4 578.7Z" fill="#000" stroke="#000" stroke-width="0.8"/>
<path d="M439.5 561.5V573.5M437.25 561.5H441.75M437.25 573.5H441.75" stroke="#000" stroke-width="1.1" fill="none"/>
<path d="M439.5 564.9L442.1 569.7L436.9 569.7Z" fill="#000" stroke="#000" stroke-width="0.8"/>
<path d="M468.5 551.5V561.5M466.25 551.5H470.75M466.25 561.5H470.75" stroke="#000" stroke-width="1.1" fill="none"/>
<path d="M468.5 553.9L471.1 558.7L465.9 558.7Z" fill="#fff" stroke="#000" stroke-width="0.8"/>
<path d="M497.5 544V553M495.25 544H499.75M495.25 553H499.75" stroke="#000" stroke-width="1.1" fill="none"/>
<path d="M497.5 545.9L500.1 550.7L494.9 550.7Z" fill="#fff" stroke="#000" stroke-width="0.8"/>
<path d="M351 598V606M348.75 598H353.25M348.75 606H353.25" stroke="#000" stroke-width="1.1" fill="none"/>
<circle cx="351" cy="602" r="2.4" fill="#000"/>
<path d="M381 588V596M378.75 588H383.25M378.75 596H383.25" stroke="#000" stroke-width="1.1" fill="none"/>
<circle cx="381" cy="592" r="2.4" fill="#000"/>
<path d="M410 578V590M407.75 578H412.25M407.75 590H412.25" stroke="#000" stroke-width="1.1" fill="none"/>
<circle cx="410" cy="584" r="2.4" fill="#000"/>
<path d="M439.5 573V583M437.25 573H441.75M437.25 583H441.75" stroke="#000" stroke-width="1.1" fill="none"/>
<circle cx="439.5" cy="578" r="2.4" fill="#000"/>
<path d="M468.5 569V577M466.25 569H470.75M466.25 577H470.75" stroke="#000" stroke-width="1.1" fill="none"/>
<circle cx="468.5" cy="573" r="2.4" fill="#000"/>
<path d="M497.5 563V571M495.25 563H499.75M495.25 571H499.75" stroke="#000" stroke-width="1.1" fill="none"/>
<circle cx="497.5" cy="567" r="2.4" fill="#000"/>
</g>
<path d="M322 617L324.8 620L322 623L319.2 620Z" fill="#000" stroke="#000" stroke-width="0.8"/>
<text x="344.98" y="529.99" font-family='"Liberation Serif", serif' font-size="17" font-weight="normal" font-style="normal" text-anchor="start" letter-spacing="-0.8" stroke="#000" stroke-width="0.32">**</text>
<text x="360" y="529" font-family='"Liberation Serif", serif' font-size="11" font-weight="bold" font-style="normal" text-anchor="start">:</text>
<text x="371" y="529" font-family='"Liberation Serif", serif' font-size="11" font-weight="bold" font-style="normal" text-anchor="start">p &lt; 0.01</text>
<text x="366" y="621" font-family='"Liberation Serif", serif' font-size="13.3" font-weight="bold" font-style="normal" text-anchor="start">Progesterone</text>
<text x="447" y="621" font-family='"Liberation Serif", serif' font-size="13" font-weight="bold" font-style="normal" text-anchor="start">10</text>
<text x="460" y="615" font-family='"Liberation Serif", serif' font-size="8.5" font-weight="bold" font-style="normal" text-anchor="start">-9</text>
<text x="469" y="621" font-family='"Liberation Serif", serif' font-size="13" font-weight="bold" font-style="normal" text-anchor="start">M</text>
<text x="503.24" y="555.73" font-family='"Liberation Serif", serif' font-size="17.5" font-weight="normal" font-style="normal" text-anchor="start" letter-spacing="-0.8" stroke="#000" stroke-width="0.32">**</text>
<text x="503.24" y="577.23" font-family='"Liberation Serif", serif' font-size="17.5" font-weight="normal" font-style="normal" text-anchor="start" letter-spacing="-0.8" stroke="#000" stroke-width="0.32">**</text>
</svg>
</body></html>
